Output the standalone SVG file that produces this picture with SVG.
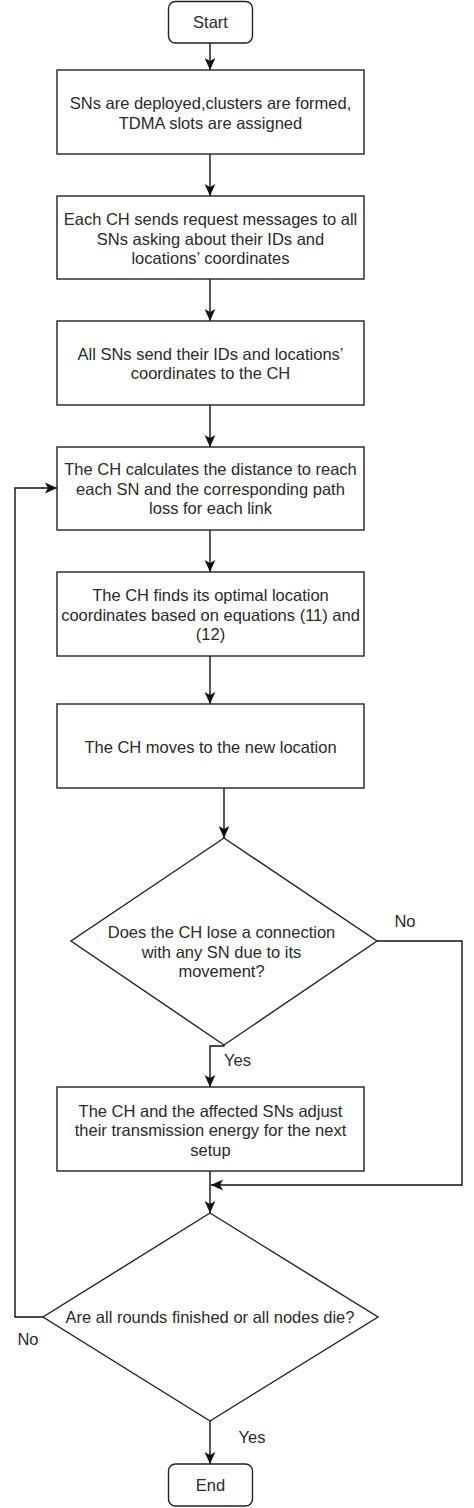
<svg xmlns="http://www.w3.org/2000/svg" width="474" height="1508" viewBox="0 0 474 1508">
<style>
.bg{fill:#ffffff}
.n{fill:#ffffff;stroke:#222222;stroke-width:1.4}
.t{font-family:"Liberation Sans",Arial,sans-serif;font-size:16.5px;fill:#2a2a2a;text-anchor:middle}
.c{fill:none;stroke:#111111;stroke-width:1.4}
</style>
<defs>
<marker id="ah" markerUnits="userSpaceOnUse" markerWidth="12" markerHeight="12" viewBox="0 0 10 10" refX="10" refY="5" orient="auto">
<path d="M0,0.5 L10,5 L0,9.5 L2.5,5 z" fill="#111111"/>
</marker>
</defs>
<rect class="bg" x="0" y="0" width="474" height="1508"/>
<g id="connectors">
<path class="c" d="M210,43 V70" marker-end="url(#ah)"/>
<path class="c" d="M210,154 V196" marker-end="url(#ah)"/>
<path class="c" d="M210,279 V321" marker-end="url(#ah)"/>
<path class="c" d="M210,405 V447" marker-end="url(#ah)"/>
<path class="c" d="M210,530 V572" marker-end="url(#ah)"/>
<path class="c" d="M210,656 V704" marker-end="url(#ah)"/>
<path class="c" d="M224,788 V838" marker-end="url(#ah)"/>
<path class="c" d="M377,941 H462 V1185 H211" marker-end="url(#ah)"/>
<path class="c" d="M224,1045 V1046 H210 V1087" marker-end="url(#ah)"/>
<path class="c" d="M210,1171 V1213" marker-end="url(#ah)"/>
<path class="c" d="M43,1317 H15 V488 H57" marker-end="url(#ah)"/>
<path class="c" d="M210,1421 V1464" marker-end="url(#ah)"/>
<text class="t" x="405" y="927">No</text>
<text class="t" x="237.5" y="1066">Yes</text>
<text class="t" x="28" y="1345">No</text>
<text class="t" x="252" y="1443">Yes</text>
</g>
<g id="start">
<rect class="n" x="168.5" y="1.5" width="84" height="41.5" rx="7"/>
<text class="t" x="210.5" y="28">Start</text>
</g>
<g id="deploy">
<rect class="n" x="57" y="70" width="307" height="84"/>
<text class="t" x="210.5" y="109">SNs are deployed,clusters are formed,</text>
<text class="t" x="210.5" y="128.5">TDMA slots are assigned</text>
</g>
<g id="request">
<rect class="n" x="57" y="196" width="307" height="83"/>
<text class="t" x="210.5" y="225">Each CH sends request messages to all</text>
<text class="t" x="210.5" y="244.5">SNs asking about their IDs and</text>
<text class="t" x="210.5" y="264">locations’ coordinates</text>
</g>
<g id="reply">
<rect class="n" x="57" y="321" width="307" height="84"/>
<text class="t" x="210.5" y="360">All SNs send their IDs and locations’</text>
<text class="t" x="210.5" y="379">coordinates to the CH</text>
</g>
<g id="calc">
<rect class="n" x="57" y="447" width="307" height="83"/>
<text class="t" x="210.5" y="475">The CH calculates the distance to reach</text>
<text class="t" x="210.5" y="494.5">each SN and the corresponding path</text>
<text class="t" x="210.5" y="514">loss for each link</text>
</g>
<g id="optimal">
<rect class="n" x="57" y="572" width="307" height="84"/>
<text class="t" x="210.5" y="601">The CH finds its optimal location</text>
<text class="t" x="210.5" y="620.5">coordinates based on equations (11) and</text>
<text class="t" x="210.5" y="640">(12)</text>
</g>
<g id="move">
<rect class="n" x="57" y="704" width="307" height="84"/>
<text class="t" x="210.5" y="753">The CH moves to the new location</text>
</g>
<g id="lose">
<polygon class="n" points="224,838 377,941 224,1045 71,941"/>
<text class="t" x="221.5" y="938">Does the CH lose a connection</text>
<text class="t" x="221.5" y="957.5">with any SN due to its</text>
<text class="t" x="221.5" y="977">movement?</text>
</g>
<g id="adjust">
<rect class="n" x="57" y="1087" width="307" height="84"/>
<text class="t" x="210.5" y="1117">The CH and the affected SNs adjust</text>
<text class="t" x="210.5" y="1136">their transmission energy for the next</text>
<text class="t" x="210.5" y="1156">setup</text>
</g>
<g id="finished">
<polygon class="n" points="210,1213 378,1317 210,1421 43,1317"/>
<text class="t" x="210" y="1323">Are all rounds finished or all nodes die?</text>
</g>
<g id="end">
<rect class="n" x="168.5" y="1464" width="84" height="42" rx="7"/>
<text class="t" x="210.5" y="1491">End</text>
</g>
</svg>
